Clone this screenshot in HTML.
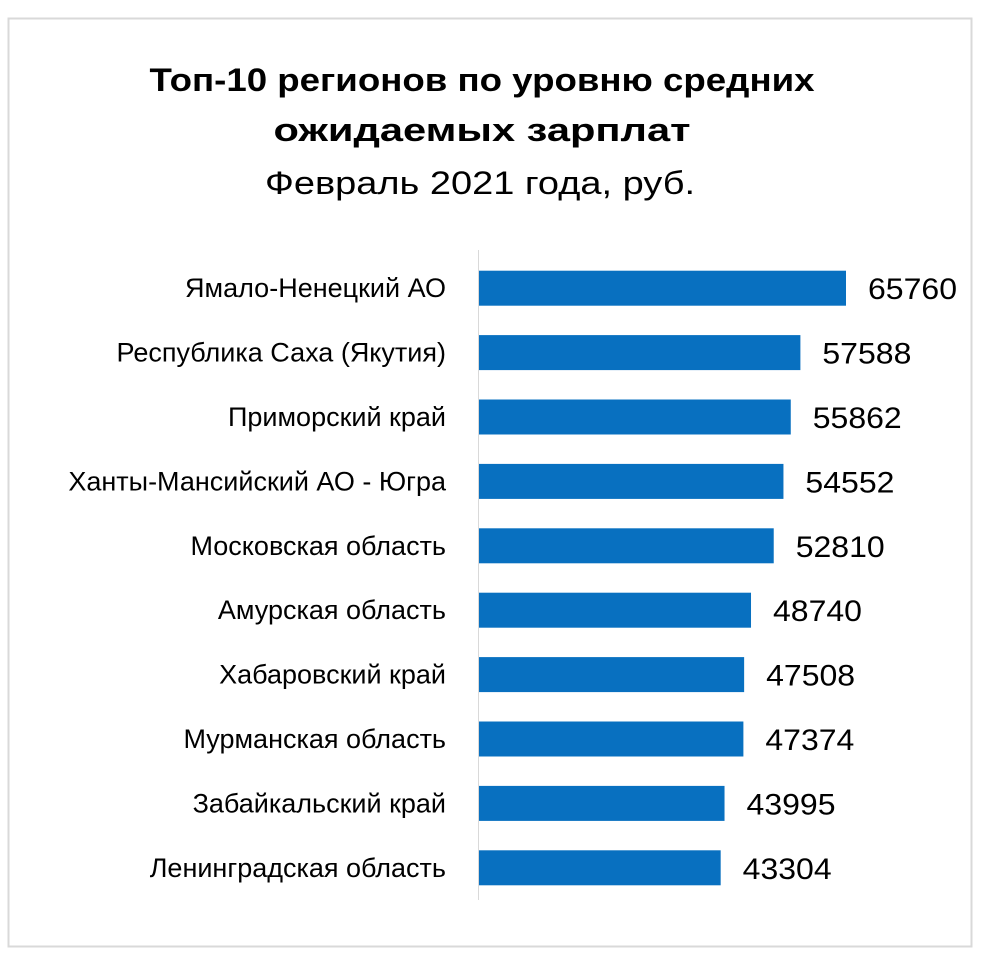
<!DOCTYPE html>
<html><head><meta charset="utf-8"><style>
body{margin:0;background:#fff;}
svg{display:block;font-family:"Liberation Sans",sans-serif;}
</style></head><body>
<svg width="984" height="960" viewBox="0 0 984 960">
<rect x="8.5" y="18.5" width="963" height="928" fill="#fff" stroke="#d9d9d9" stroke-width="2"/>
<text x="482" y="91" text-anchor="middle" font-size="32" font-weight="bold" fill="#000" textLength="665" lengthAdjust="spacingAndGlyphs">Топ-10 регионов по уровню средних</text>
<text x="482" y="141" text-anchor="middle" font-size="32" font-weight="bold" fill="#000" textLength="417" lengthAdjust="spacingAndGlyphs">ожидаемых зарплат</text>
<text x="480" y="194" text-anchor="middle" font-size="32" fill="#000" textLength="430" lengthAdjust="spacingAndGlyphs">Февраль 2021 года, руб.</text>
<line x1="478.5" y1="250" x2="478.5" y2="900" stroke="#d9d9d9" stroke-width="1"/>
<g id="bars"></g>
</svg>
<script>
const categories=["Ямало-Ненецкий АО","Республика Саха (Якутия)","Приморский край","Ханты-Мансийский АО - Югра","Московская область","Амурская область","Хабаровский край","Мурманская область","Забайкальский край","Ленинградская область"];
const values=[65760,57588,55862,54552,52810,48740,47508,47374,43995,43304];
const labels=["65760","57588","55862","54552","52810","48740","47508","47374","43995","43304"];
const NS="http://www.w3.org/2000/svg";
const x0=479, xScale=v=>x0+v*(846-479)/65760;
const yBand=i=>256+i*64.4, bandH=64.4, barH=35;
const g=document.getElementById('bars');
categories.forEach((c,i)=>{
  const yc=yBand(i)+bandH/2;
  const r=document.createElementNS(NS,'rect');
  r.setAttribute('x',x0);r.setAttribute('y',yc-barH/2);
  r.setAttribute('width',xScale(values[i])-x0);r.setAttribute('height',barH);
  r.setAttribute('fill','#0870c0');
  
  
  g.appendChild(r);
  const t=document.createElementNS(NS,'text');
  t.setAttribute('x',446);t.setAttribute('y',yc+9);t.setAttribute('text-anchor','end');
  t.setAttribute('font-size','27');t.setAttribute('fill','#000');
  t.textContent=c;
  
  
  g.appendChild(t);
  const w=t.getComputedTextLength();
  if(w>426){t.setAttribute('textLength','426');t.setAttribute('lengthAdjust','spacingAndGlyphs');}
  const v=document.createElementNS(NS,'text');
  v.setAttribute('x',xScale(values[i])+22);v.setAttribute('y',yc+11);
  v.setAttribute('font-size','30');v.setAttribute('fill','#000');
  v.setAttribute('textLength','89');v.setAttribute('lengthAdjust','spacingAndGlyphs');
  v.textContent=labels[i];
  
  
  g.appendChild(v);
});
</script>
</body></html>
